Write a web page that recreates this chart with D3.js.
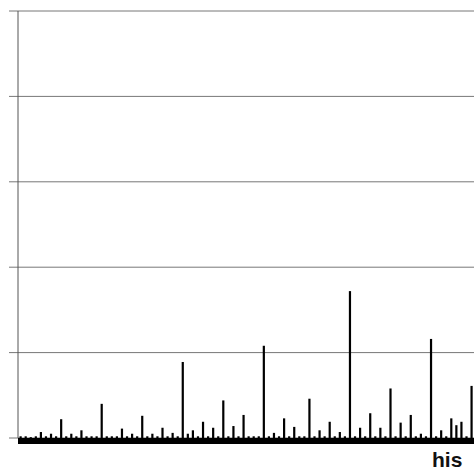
<!DOCTYPE html><html><head><meta charset="utf-8">
<script src="https://cdn.jsdelivr.net/npm/d3@7"></script>
<style>body{margin:0;background:#fff}</style></head><body>
<svg id="c" width="474" height="474"></svg>
<script>
// bin counts (bins 0..89)
const counts = [
 2,2,1,2,7,2,5,2,22,2, 5,2,9,2,2,2,40,2,2,2,
 11,2,5,2,26,2,5,2,12,2, 6,2,89,5,9,2,19,2,12,2,
 44,2,14,2,27,2,2,2,108,2, 6,2,23,2,13,2,2,46,2,9,
 2,19,2,7,2,172,2,12,2,29, 2,12,2,58,2,18,2,27,2,5,
 2,116,2,9,2,23,15,19,2,61
];
const yTicks = [0,100,200,300,400,500];
const label = "his";

const svg = d3.select("#c");
const x0 = 18, x1 = 474, yTop = 11, yBase = 438;
const x = d3.scaleLinear().domain([0, counts.length]).range([x0, x1]);
const y = d3.scaleLinear().domain([0, 500]).range([yBase, yTop]);

svg.append("g").selectAll("line").data(yTicks).join("line")
  .attr("x1", 9).attr("x2", x1).attr("y1", d=>y(d)).attr("y2", d=>y(d))
  .attr("stroke", "#777").attr("stroke-width", 1);
svg.append("line").attr("x1", x0).attr("x2", x0).attr("y1", yTop).attr("y2", yBase)
  .attr("stroke", "#555").attr("stroke-width", 1);

svg.append("g").selectAll("rect").data(counts).join("rect")
  .attr("x", (d,i)=>x(i+0.5)-1).attr("width", 2.2)
  .attr("y", d=>y(d)).attr("height", d=>yBase - y(d)).attr("fill", "#000");
svg.append("rect").attr("x", x0).attr("y", yBase).attr("width", x1-x0).attr("height", 6).attr("fill","#000");

svg.append("text").attr("x", 432).attr("y", 467).text(label)
  .attr("font-family","Liberation Sans, Arial, sans-serif").attr("font-weight","bold").attr("font-size",21).attr("fill","#111");
</script></body></html>
